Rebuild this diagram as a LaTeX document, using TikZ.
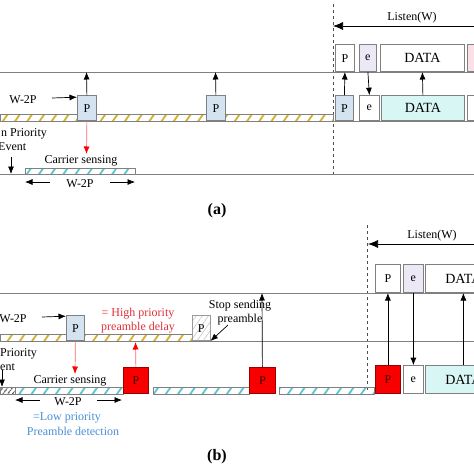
\documentclass[tikz,border=0pt]{standalone}
\usepackage{fontspec}
\setmainfont{Liberation Serif}
\usetikzlibrary{arrows.meta,patterns.meta}
\definecolor{lg}{HTML}{808080}
\definecolor{ylw}{HTML}{D2B22A}
\definecolor{cyn}{HTML}{5CC6CF}
\definecolor{lblue}{HTML}{D5E3F1}
\definecolor{lcyan}{HTML}{D8F6F3}
\definecolor{lav}{HTML}{ECE8F6}
\definecolor{pnk}{HTML}{FBE0E8}
\definecolor{rtext}{HTML}{E0303A}
\definecolor{btext}{HTML}{4A8FD8}
\definecolor{rbox}{HTML}{F80000}
\tikzset{
  gline/.style={draw=lg, line width=0.8pt},
  box/.style={draw=lg, line width=0.8pt, inner sep=0pt, font=\fontsize{12}{13}\selectfont},
  dbox/.style={box, font=\fontsize{14}{15}\selectfont},
  redbox/.style={box, draw=red!60!black, fill=rbox, text=black!75!red},
  arr/.style={-{Latex[length=7.5pt,width=6pt]}, line width=0.7pt},
  bigarr/.style={-{Latex[length=10pt,width=8pt]}, line width=0.7pt},
  redarr/.style={arr, draw=red!60, -{Latex[length=7.5pt,width=6pt,fill=red,color=red]}},
  lbl/.style={inner sep=0pt, font=\fontsize{12}{13}\selectfont},
  ybar/.style={draw=lg, line width=0.7pt, pattern={Lines[angle=55,distance=10pt,line width=1.8pt]}, pattern color=ylw},
  cbar/.style={draw=lg, line width=0.7pt, pattern={Lines[angle=55,distance=10pt,line width=1.8pt]}, pattern color=cyn},
}
\begin{document}
\begin{tikzpicture}[x=1pt,y=-1pt]
\useasboundingbox[fill=white] (0,0) rectangle (474,474);

% ================= (a) =================
\draw[dashed, line width=0.6pt, black!70] (333,4) -- (333,175);
\coordinate (la1) at (474,26);
\coordinate (la2) at (333,26);
\draw[bigarr] (la1) -- (la2);
\node[lbl] (lista) at (412,18) {Listen(W)};

\draw[gline] (0,72) -- (474,72);
\draw[gline] (333,121) -- (474,121);
\draw[gline] (0,174) -- (474,174);
\path[ybar] (0,114) rectangle (333,121);
\path[cbar] (25,168) rectangle (135,174);

% top row
\node[box, minimum width=19pt, minimum height=27pt, anchor=south west] (Pa1) at (335,72) {P};
\node[box, fill=lav, minimum width=17pt, minimum height=27pt, anchor=south west] (ea1) at (359,72) {e};
\node[dbox, minimum width=84pt, minimum height=27pt, anchor=south west] (Da1) at (380,72) {DATA};
\node[box, fill=pnk, minimum width=20pt, minimum height=27pt, anchor=south west] (xa1) at (467,72) {};
% second row
\node[box, fill=lblue, minimum width=18pt, minimum height=25pt, anchor=south west] (Pa2) at (335,121) {P};
\node[box, minimum width=20pt, minimum height=25pt, anchor=south west] (ea2) at (359,121) {e};
\node[dbox, fill=lcyan, minimum width=83pt, minimum height=25pt, anchor=south west] (Da2) at (381,121) {DATA};
\node[box, minimum width=20pt, minimum height=25pt, anchor=south west] (xa2) at (467,121) {};
% P on bar
\node[box, fill=lblue, minimum width=19pt, minimum height=25pt, anchor=south west] (Pa3) at (77,121) {P};
\node[box, fill=lblue, minimum width=19pt, minimum height=25pt, anchor=south west] (Pa4) at (206,121) {P};

\coordinate (ta3) at (86.5,72);
\coordinate (ta4) at (215.5,72);
\draw[arr] (Pa3.north) -- (ta3);
\draw[arr] (Pa4.north) -- (ta4);
\draw[arr] (Pa2.north) -- (Pa1.south);
\draw[arr] (ea1.south) -- (ea2.north);
\draw[arr] (Da2.north) -- (Da1.south);

\node[lbl] (w2pa) at (23,100) {W-2P};
\coordinate (wa) at (52,98);
\draw[arr] (wa) -- ([yshift=-2pt]Pa3.north west);
\coordinate (ra) at (86.5,154);
\draw[redarr] (Pa3.south) -- (ra);

\node[lbl, anchor=west] (npa) at (1,134) {n Priority};
\node[lbl, anchor=west] (eva) at (-2,147) {Event};
\coordinate (ea0) at (11,157);
\coordinate (ea3) at (11,174);
\draw[arr] (ea0) -- (ea3);

\node[lbl] (csa) at (81,161) {Carrier sensing};
\node[lbl] (w2pa2) at (80,184) {W-2P};
\coordinate (wl1) at (50,182); \coordinate (wl2) at (25,182);
\coordinate (wr1) at (110,182); \coordinate (wr2) at (135,182);
\draw[arr] (wl1) -- (wl2);
\draw[arr] (wr1) -- (wr2);

\node[inner sep=0pt, font=\fontsize{16}{17}\bfseries\selectfont] (capa) at (217,211) {(a)};

% ================= (b) =================
\draw[dashed, line width=0.6pt, black!70] (367,225) -- (367,390);
\coordinate (lb1) at (474,244);
\coordinate (lb2) at (368,244);
\draw[bigarr] (lb1) -- (lb2);
\node[lbl] (listb) at (432,236) {Listen(W)};

\draw[gline, line width=1pt] (0,293) -- (474,293);
\draw[gline] (0,341) -- (474,341);
\path[ybar] (0,334) rectangle (192,341);

% bottom bars
\path[draw=lg, line width=0.7pt, pattern={Lines[angle=55,distance=4pt,line width=1pt]}, pattern color=black] (0,387) rectangle (15,394);
\path[cbar] (15,387) rectangle (123,394);
\path[cbar] (153,387) rectangle (249,394);
\path[cbar] (279,387) rectangle (374,394);

\node[box, fill=lblue, minimum width=18pt, minimum height=25pt, anchor=south west] (Pb1) at (66,341) {P};
\node[box, draw=lg!80, pattern={Lines[angle=55,distance=5pt,line width=0.5pt]}, pattern color=lg!50, minimum width=18pt, minimum height=25pt, anchor=south west] (Sb) at (192,341) {};
\node[box, draw=none, inner sep=0pt] (Sbt) at (Sb.center) {P};

\node[redbox, minimum width=25pt, minimum height=26pt, anchor=south west] (Rb1) at (123,394) {P};
\node[redbox, minimum width=26pt, minimum height=26pt, anchor=south west] (Rb2) at (249,394) {P};
\node[redbox, minimum width=25pt, minimum height=28pt, anchor=south west] (Rb3) at (375,394) {P};
\node[box, minimum width=20pt, minimum height=28pt, anchor=south west] (eb) at (403,394) {e};
\node[dbox, fill=lcyan, minimum width=76pt, minimum height=28pt, anchor=south west] (Db) at (425,394) {DATA};

\node[box, minimum width=25pt, minimum height=28pt, anchor=south west] (Pt) at (375,293) {P};
\node[box, fill=lav, minimum width=20pt, minimum height=28pt, anchor=south west] (et) at (403,293) {e};
\node[dbox, minimum width=76pt, minimum height=28pt, anchor=south west] (Dt) at (425,293) {DATA};

\node[lbl] (w2pb) at (13,319) {W-2P};
\coordinate (wb) at (42,317);
\draw[arr] (wb) -- ([yshift=-1pt]Pb1.north west);
\coordinate (rb) at (75,374);
\draw[redarr] (Pb1.south) -- (rb);
\coordinate (rbu) at (135.5,342);
\draw[redarr] (Rb1.north) -- (rbu);
\coordinate (tb2) at (262,293);
\draw[arr] (Rb2.north) -- (tb2);
\draw[arr] (Rb3.north) -- (Pt.south);
\draw[arr] (et.south) -- (eb.north);
\draw[arr] (Db.north) -- (Dt.south);

\node[lbl, text=rtext] (hp1) at (138,314) {= High priority};
\node[lbl, text=rtext] (hp2) at (138,328) {preamble delay};
\node[lbl] (st1) at (240,306) {Stop sending};
\node[lbl] (st2) at (240,320) {preamble};
\coordinate (sa) at (228,325);
\draw[arr] (sa) -- (Sb.south east);

\node[lbl, anchor=west] (prb) at (0,354) {Priority};
\node[lbl, anchor=west] (evb) at (0,367) {ent};
\coordinate (eb0) at (2,370);
\coordinate (eb3) at (2,387);
\draw[arr] (eb0) -- (eb3);

\node[lbl] (csb) at (70,381) {Carrier sensing};
\node[lbl] (w2pb2) at (68,402) {W-2P};
\coordinate (vl1) at (40,400); \coordinate (vl2) at (15,400);
\coordinate (vr1) at (97,400); \coordinate (vr2) at (122,400);
\draw[arr] (vl1) -- (vl2);
\draw[arr] (vr1) -- (vr2);
\node[lbl, text=btext] (lp1) at (67,418) {=Low priority};
\node[lbl, text=btext] (lp2) at (73,431) {Preamble detection};

\node[inner sep=0pt, font=\fontsize{16}{17}\bfseries\selectfont] (capb) at (217,457) {(b)};
\end{tikzpicture}
\end{document}
